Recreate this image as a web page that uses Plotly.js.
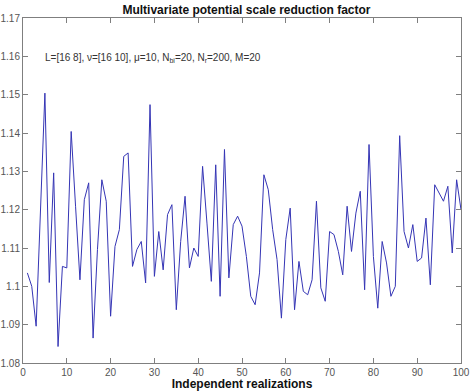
<!DOCTYPE html>
<html><head><meta charset="utf-8">
<script src="https://cdn.plot.ly/plotly-3.0.1.min.js"></script>
<style>html,body{margin:0;padding:0;background:#fff;}#chart{width:474px;height:391px;}</style>
</head><body><div id="chart"></div>
<script>
const realizations = Array.from({length: 100}, (_, i) => i + 1);
const psrf = [
 1.1035, 1.1000, 1.0896, 1.1200, 1.1504, 1.1010, 1.1296, 1.0843, 1.1052, 1.1048,
 1.1404, 1.1209, 1.1017, 1.1226, 1.1270, 1.0865, 1.1096, 1.1278, 1.1222, 1.0922,
 1.1104, 1.1148, 1.1339, 1.1348, 1.1052, 1.1096, 1.1117, 1.1009, 1.1474, 1.1026,
 1.1143, 1.1043, 1.1187, 1.1213, 1.0939, 1.1117, 1.1235, 1.1048, 1.1100, 1.1078,
 1.1313, 1.1165, 1.1013, 1.1317, 1.0974, 1.1357, 1.1022, 1.1161, 1.1183, 1.1157,
 1.1078, 1.0974, 1.0952, 1.1035, 1.1291, 1.1252, 1.1148, 1.1070, 1.0917, 1.1122,
 1.1204, 1.0939, 1.1065, 1.0987, 1.0978, 1.1017, 1.1222, 1.0996, 1.0961, 1.1143,
 1.1135, 1.1091, 1.1030, 1.1209, 1.1091, 1.1191, 1.1248, 1.0991, 1.1370, 1.1078,
 1.0943, 1.1117, 1.1061, 1.0974, 1.1000, 1.1393, 1.1143, 1.1100, 1.1161, 1.1065,
 1.1074, 1.1178, 1.1004, 1.1265, 1.1243, 1.1222, 1.1261, 1.1087, 1.1278, 1.1200
];
const xTicks = [0, 10, 20, 30, 40, 50, 60, 70, 80, 90, 100];
const yTicks = [1.08, 1.09, 1.10, 1.11, 1.12, 1.13, 1.14, 1.15, 1.16, 1.17];
const yTickLabels = ['1.08', '1.09', '1.1', '1.11', '1.12', '1.13', '1.14', '1.15', '1.16', '1.17'];
const titleText = 'Multivariate potential scale reduction factor';
const xTitle = 'Independent realizations';
const noteText = 'L=[16 8], \u03BD=[16 10], \u03BC=10, N<sub>bi</sub>=20, N<sub>r</sub>=200, M=20';

const axisCommon = {
  showgrid: false, zeroline: false, showline: true, mirror: 'ticks',
  linecolor: '#7f7f7f', linewidth: 1, ticks: 'inside', ticklen: 5,
  tickcolor: '#7f7f7f', tickfont: {family: 'Arial, Liberation Sans', size: 10, color: '#555'}
};

Plotly.newPlot('chart', [{
  x: realizations, y: psrf, type: 'scatter', mode: 'lines',
  line: {color: '#3535b5', width: 1}
}], {
  width: 474, height: 391,
  margin: {l: 23, r: 13, t: 18, b: 28},
  paper_bgcolor: '#fff', plot_bgcolor: '#fff',
  showlegend: false,
  title: {text: '<b>' + titleText + '</b>', x: 0.52, xanchor: 'center', y: 0.985, yanchor: 'top',
          font: {family: 'Arial, Liberation Sans', size: 12, color: '#111'}},
  xaxis: Object.assign({}, axisCommon, {
    range: [0, 100], tickvals: xTicks, ticktext: xTicks.map(String),
    title: {text: '<b>' + xTitle + '</b>', standoff: 3, font: {family: 'Arial, Liberation Sans', size: 12, color: '#111'}}
  }),
  yaxis: Object.assign({}, axisCommon, {
    range: [1.08, 1.17], tickvals: yTicks, ticktext: yTickLabels
  }),
  annotations: [{
    text: noteText, xref: 'paper', yref: 'paper', x: 0.045, y: 0.885,
    xanchor: 'left', yanchor: 'middle', showarrow: false,
    font: {family: 'Arial, Liberation Sans', size: 10, color: '#333'}
  }]
}, {displayModeBar: false, staticPlot: true});
</script>
</body></html>
